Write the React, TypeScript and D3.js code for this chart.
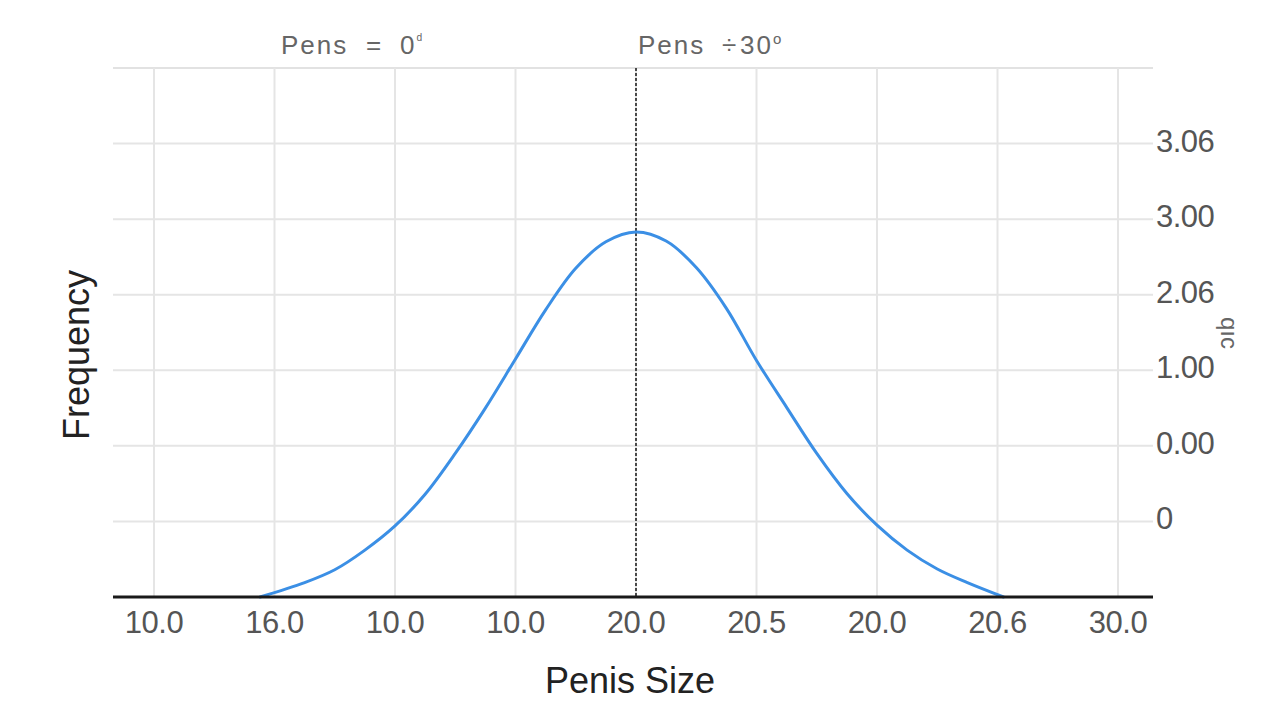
import React from "react";
import * as d3 from "d3";

const xTickLabels = ["10.0", "16.0", "10.0", "10.0", "20.0", "20.5", "20.0", "20.6", "30.0"];
const yGridValues = [1, 2, 3, 4, 5, 6];
const yTickLabels = ["0", "0.00", "1.00", "2.06", "3.00", "3.06"];

// curve sample positions (in x-tick index units) and frequencies
const curveX = [0.88, 1.25, 1.5, 1.75, 2, 2.25, 2.5, 2.75, 3, 3.25, 3.5, 3.75, 4, 4.25, 4.5, 4.75, 5, 5.25, 5.5, 5.75, 6, 6.25, 6.5, 6.75, 7.05];
const curveY = [0, 0.19, 0.36, 0.62, 0.94, 1.36, 1.9, 2.5, 3.15, 3.8, 4.35, 4.7, 4.83, 4.71, 4.36, 3.82, 3.13, 2.51, 1.9, 1.37, 0.95, 0.62, 0.37, 0.19, 0];
const markerIndex = 4;

const W = 1280;
const H = 720;
const left = 113;
const right = 1153;
const top = 68;
const bottom = 597;

export default function App() {
  const x = d3.scaleLinear().domain([0, 8]).range([154, 1118]);
  const y = d3.scaleLinear().domain([0, 7]).range([bottom, top]);
  const pts: [number, number][] = curveX.map((v, i) => [v, curveY[i]]);
  const line = d3
    .line<[number, number]>()
    .x((d) => x(d[0]))
    .y((d) => y(d[1]))
    .curve(d3.curveCatmullRom.alpha(0.5));

  const font = "'Liberation Sans', Arial, Helvetica, sans-serif";

  return (
    <div style={{ position: "fixed", left: 0, top: 0, width: W, height: H, background: "#fff" }}>
      <svg width={W} height={H} style={{ display: "block" }} fontFamily={font}>
        <rect x={0} y={0} width={W} height={H} fill="#fff" />
        {/* horizontal grid */}
        {yGridValues.map((v) => (
          <line key={"h" + v} x1={left} x2={right} y1={y(v)} y2={y(v)} stroke="#e5e5e5" strokeWidth={2} />
        ))}
        {/* top border */}
        <line x1={left} x2={right} y1={top} y2={top} stroke="#e2e2e2" strokeWidth={2} />
        {/* vertical grid */}
        {xTickLabels.map((_, i) => (
          <line key={"v" + i} x1={x(i)} x2={x(i)} y1={top} y2={bottom} stroke="#e5e5e5" strokeWidth={2} />
        ))}
        {/* dashed marker */}
        <line
          x1={x(markerIndex)}
          x2={x(markerIndex)}
          y1={top}
          y2={bottom}
          stroke="#222"
          strokeWidth={1.6}
          strokeDasharray="3 2"
        />
        {/* curve */}
        <path d={line(pts) || ""} fill="none" stroke="#3b8fe5" strokeWidth={3} strokeLinecap="round" />
        {/* baseline */}
        <line x1={left} x2={right} y1={bottom} y2={bottom} stroke="#1a1a1a" strokeWidth={3} />
        {/* x tick labels */}
        {xTickLabels.map((t, i) => (
          <text key={"xt" + i} x={x(i)} y={633} textAnchor="middle" fontSize={31} fill="#555" letterSpacing={-0.5}>
            {t}
          </text>
        ))}
        {/* right tick labels */}
        {yTickLabels.map((t, i) => (
          <text key={"yt" + i} x={1156} y={y(yGridValues[i]) + 8} fontSize={31} fill="#555" letterSpacing={-0.5}>
            {t}
          </text>
        ))}
        <text
          transform="translate(1221,333) rotate(90)"
          textAnchor="middle"
          fontSize={24}
          fill="#666"
        >
          qıc
        </text>
        {/* top labels */}
        <text y={54} fontSize={26} fill="#666" letterSpacing={2}>
          <tspan x={281}>Pens</tspan>
          <tspan x={366}>=</tspan>
          <tspan x={400}>0</tspan>
          <tspan fontSize={15} dy={-10}>ᵈ</tspan>
        </text>
        <text y={54} fontSize={26} fill="#666" letterSpacing={2}>
          <tspan x={638}>Pens</tspan>
          <tspan x={722}>÷</tspan>
          <tspan x={740}>30</tspan>
          <tspan fontSize={15} dy={-10}>o</tspan>
        </text>
        {/* axis titles */}
        <text transform="translate(89,355) rotate(-90)" textAnchor="middle" fontSize={36} fill="#222">
          Frequency
        </text>
        <text x={630} y={693} textAnchor="middle" fontSize={36} fill="#222">
          Penis Size
        </text>
      </svg>
    </div>
  );
}
